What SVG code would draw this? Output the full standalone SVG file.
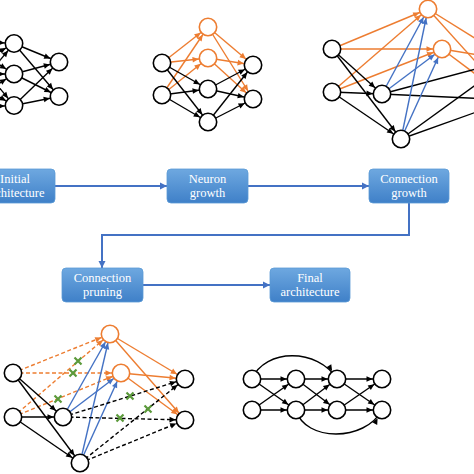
<svg xmlns="http://www.w3.org/2000/svg" width="474" height="474" viewBox="0 0 474 474">
<style>
.k{stroke:#000;stroke-width:1.4;fill:none;marker-end:url(#ak)}
.o{stroke:#ed7d31;stroke-width:1.4;fill:none;marker-end:url(#ao)}
.b{stroke:#4472c4;stroke-width:1.4;fill:none;marker-end:url(#ab)}
.d{stroke-dasharray:4 2.5}
.n{fill:#fff;stroke:#000;stroke-width:1.6}
.nr{fill:#fff;stroke:#ed7d31;stroke-width:1.6}
.f{stroke:#4472c4;stroke-width:2;fill:none;marker-end:url(#af)}
.box{fill:url(#g);stroke:#5b9bd5;stroke-width:0.8}
.t{font-family:"Liberation Serif","Times New Roman",serif;font-size:12.5px;fill:#fff;text-anchor:middle}
.x{stroke:#5b9a3b;stroke-width:2.2}
</style>
<defs>
<linearGradient id="g" x1="0" y1="0" x2="0" y2="1"><stop offset="0" stop-color="#6ea8e0"/><stop offset="1" stop-color="#3f80c8"/></linearGradient>
<marker id="ak" viewBox="-20 -5 20 10" refX="0" refY="0" markerWidth="20" markerHeight="10" markerUnits="userSpaceOnUse" orient="auto"><path d="M-15.5,-2.8 L-9.3,0 L-15.5,2.8 z" fill="#000"/></marker>
<marker id="ao" viewBox="-20 -5 20 10" refX="0" refY="0" markerWidth="20" markerHeight="10" markerUnits="userSpaceOnUse" orient="auto"><path d="M-15.5,-2.8 L-9.3,0 L-15.5,2.8 z" fill="#ed7d31"/></marker>
<marker id="ab" viewBox="-20 -5 20 10" refX="0" refY="0" markerWidth="20" markerHeight="10" markerUnits="userSpaceOnUse" orient="auto"><path d="M-15.5,-2.8 L-9.3,0 L-15.5,2.8 z" fill="#4472c4"/></marker>
<marker id="af" viewBox="0 -4 7 8" refX="7" refY="0" markerWidth="7" markerHeight="8" markerUnits="userSpaceOnUse" orient="auto"><path d="M0,-3.5 L7,0 L0,3.5 z" fill="#4472c4"/></marker>
</defs>

<g id="connectors">
<!-- Net A: initial -->
<line class="k" x1="-40" y1="40" x2="14" y2="43.5"/>
<line class="k" x1="-40" y1="74" x2="14" y2="43.5"/>
<line class="k" x1="-40" y1="108" x2="14" y2="43.5"/>
<line class="k" x1="-40" y1="40" x2="14" y2="74"/>
<line class="k" x1="-40" y1="74" x2="14" y2="74"/>
<line class="k" x1="-40" y1="108" x2="14" y2="74"/>
<line class="k" x1="-40" y1="40" x2="14" y2="105.5"/>
<line class="k" x1="-40" y1="74" x2="14" y2="105.5"/>
<line class="k" x1="-40" y1="108" x2="14" y2="105.5"/>
<line class="k" x1="14" y1="43.5" x2="59" y2="62"/>
<line class="k" x1="14" y1="43.5" x2="59" y2="96.5"/>
<line class="k" x1="14" y1="74" x2="59" y2="62"/>
<line class="k" x1="14" y1="74" x2="59" y2="96.5"/>
<line class="k" x1="14" y1="105.5" x2="59" y2="62"/>
<line class="k" x1="14" y1="105.5" x2="59" y2="96.5"/>
<!-- Net B: neuron growth -->
<line class="o" x1="162" y1="63" x2="208" y2="27"/>
<line class="o" x1="162" y1="63" x2="208" y2="58"/>
<line class="o" x1="162" y1="95" x2="208" y2="27"/>
<line class="o" x1="162" y1="95" x2="208" y2="58"/>
<line class="o" x1="208" y1="27" x2="253" y2="65"/>
<line class="o" x1="208" y1="27" x2="253" y2="99"/>
<line class="o" x1="208" y1="58" x2="253" y2="65"/>
<line class="o" x1="208" y1="58" x2="253" y2="99"/>
<line class="k" x1="162" y1="63" x2="208" y2="89"/>
<line class="k" x1="162" y1="63" x2="208" y2="122"/>
<line class="k" x1="162" y1="95" x2="208" y2="89"/>
<line class="k" x1="162" y1="95" x2="208" y2="122"/>
<line class="k" x1="208" y1="89" x2="253" y2="65"/>
<line class="k" x1="208" y1="89" x2="253" y2="99"/>
<line class="k" x1="208" y1="122" x2="253" y2="65"/>
<line class="k" x1="208" y1="122" x2="253" y2="99"/>
<!-- Net C: connection growth -->
<line class="o" x1="332" y1="49" x2="428" y2="9"/>
<line class="o" x1="332" y1="49" x2="442" y2="49"/>
<line class="o" x1="332" y1="92" x2="428" y2="9"/>
<line class="o" x1="332" y1="92" x2="442" y2="49"/>
<line class="o" x1="428" y1="9" x2="510" y2="60"/>
<line class="o" x1="428" y1="9" x2="510" y2="100"/>
<line class="o" x1="442" y1="49" x2="510" y2="60"/>
<line class="o" x1="442" y1="49" x2="510" y2="100"/>
<line class="k" x1="332" y1="49" x2="382" y2="94"/>
<line class="k" x1="332" y1="49" x2="401" y2="139"/>
<line class="k" x1="332" y1="92" x2="382" y2="94"/>
<line class="k" x1="332" y1="92" x2="401" y2="139"/>
<line class="k" x1="382" y1="94" x2="510" y2="60"/>
<line class="k" x1="382" y1="94" x2="510" y2="100"/>
<line class="k" x1="401" y1="139" x2="510" y2="60"/>
<line class="k" x1="401" y1="139" x2="510" y2="100"/>
<line class="b" x1="382" y1="94" x2="428" y2="9"/>
<line class="b" x1="382" y1="94" x2="442" y2="49"/>
<line class="b" x1="401" y1="139" x2="428" y2="9"/>
<line class="b" x1="401" y1="139" x2="442" y2="49"/>
<!-- Net D: pruning -->
<line class="o d" x1="13" y1="373" x2="110" y2="334"/>
<line class="o d" x1="13" y1="373" x2="121" y2="373"/>
<line class="o d" x1="13" y1="417" x2="110" y2="334"/>
<line class="o d" x1="13" y1="417" x2="121" y2="373"/>
<line class="o" x1="110" y1="334" x2="185" y2="379"/>
<line class="o" x1="110" y1="334" x2="185" y2="420"/>
<line class="o" x1="121" y1="373" x2="185" y2="379"/>
<line class="o" x1="121" y1="373" x2="185" y2="420"/>
<line class="k" x1="13" y1="373" x2="63" y2="417"/>
<line class="k" x1="13" y1="373" x2="80" y2="463"/>
<line class="k" x1="13" y1="417" x2="63" y2="417"/>
<line class="k" x1="13" y1="417" x2="80" y2="463"/>
<line class="b" x1="63" y1="417" x2="110" y2="334"/>
<line class="b" x1="63" y1="417" x2="121" y2="373"/>
<line class="b" x1="80" y1="463" x2="110" y2="334"/>
<line class="b" x1="80" y1="463" x2="121" y2="373"/>
<line class="k d" x1="63" y1="417" x2="185" y2="379"/>
<line class="k d" x1="63" y1="417" x2="185" y2="420"/>
<line class="k d" x1="80" y1="463" x2="185" y2="379"/>
<line class="k d" x1="80" y1="463" x2="185" y2="420"/>
<!-- Net E: final -->
<line class="k" x1="252" y1="379" x2="296" y2="379"/>
<line class="k" x1="252" y1="379" x2="296" y2="410"/>
<line class="k" x1="252" y1="410" x2="296" y2="379"/>
<line class="k" x1="252" y1="410" x2="296" y2="410"/>
<line class="k" x1="296" y1="379" x2="337" y2="379"/>
<line class="k" x1="296" y1="379" x2="337" y2="410"/>
<line class="k" x1="296" y1="410" x2="337" y2="379"/>
<line class="k" x1="296" y1="410" x2="337" y2="410"/>
<line class="k" x1="337" y1="379" x2="382" y2="379"/>
<line class="k" x1="337" y1="379" x2="382" y2="410"/>
<line class="k" x1="337" y1="410" x2="382" y2="379"/>
<line class="k" x1="337" y1="410" x2="382" y2="410"/>
<path class="k" d="M252,379 C265,348 318,348 337,379"/>
<path class="k" d="M296,410 C305,442 365,442 382,410"/>
<!-- flow arrows -->
<line class="f" x1="55" y1="186" x2="167" y2="186"/>
<line class="f" x1="248" y1="186" x2="369" y2="186"/>
<polyline class="f" points="409,203 409,235 102,235 102,268"/>
<line class="f" x1="143" y1="285" x2="270" y2="285"/>
</g>

<g id="prune-marks">
<path class="x" d="M69.5,369.5 L76.5,376.5 M69.5,376.5 L76.5,369.5"/>
<path class="x" d="M74.5,357.5 L81.5,364.5 M74.5,364.5 L81.5,357.5"/>
<path class="x" d="M54.5,395.5 L61.5,402.5 M54.5,402.5 L61.5,395.5"/>
<path class="x" d="M126.5,392.5 L133.5,399.5 M126.5,399.5 L133.5,392.5"/>
<path class="x" d="M116.5,414.5 L123.5,421.5 M116.5,421.5 L123.5,414.5"/>
<path class="x" d="M144.5,405.5 L151.5,412.5 M144.5,412.5 L151.5,405.5"/>
</g>

<g id="net-initial">
<circle class="n" cx="14" cy="43.5" r="8.7"/><circle class="n" cx="14" cy="74" r="8.7"/><circle class="n" cx="14" cy="105.5" r="8.7"/>
<circle class="n" cx="59" cy="62" r="8.7"/><circle class="n" cx="59" cy="96.5" r="8.7"/>
</g>
<g id="net-neuron-growth">
<circle class="n" cx="162" cy="63" r="8.7"/><circle class="n" cx="162" cy="95" r="8.7"/>
<circle class="nr" cx="208" cy="27" r="8.7"/><circle class="nr" cx="208" cy="58" r="8.7"/>
<circle class="n" cx="208" cy="89" r="8.7"/><circle class="n" cx="208" cy="122" r="8.7"/>
<circle class="n" cx="253" cy="65" r="8.7"/><circle class="n" cx="253" cy="99" r="8.7"/>
</g>
<g id="net-connection-growth">
<circle class="n" cx="332" cy="49" r="8.7"/><circle class="n" cx="332" cy="92" r="8.7"/>
<circle class="nr" cx="428" cy="9" r="8.7"/><circle class="nr" cx="442" cy="49" r="8.7"/>
<circle class="n" cx="382" cy="94" r="8.7"/><circle class="n" cx="401" cy="139" r="8.7"/>
</g>
<g id="net-pruning">
<circle class="n" cx="13" cy="373" r="8.7"/><circle class="n" cx="13" cy="417" r="8.7"/>
<circle class="nr" cx="110" cy="334" r="8.7"/><circle class="nr" cx="121" cy="373" r="8.7"/>
<circle class="n" cx="63" cy="417" r="8.7"/><circle class="n" cx="80" cy="463" r="8.7"/>
<circle class="n" cx="185" cy="379" r="8.7"/><circle class="n" cx="185" cy="420" r="8.7"/>
</g>
<g id="net-final">
<circle class="n" cx="252" cy="379" r="8.7"/><circle class="n" cx="252" cy="410" r="8.7"/>
<circle class="n" cx="296" cy="379" r="8.7"/><circle class="n" cx="296" cy="410" r="8.7"/>
<circle class="n" cx="337" cy="379" r="8.7"/><circle class="n" cx="337" cy="410" r="8.7"/>
<circle class="n" cx="382" cy="379" r="8.7"/><circle class="n" cx="382" cy="410" r="8.7"/>
</g>

<g id="box-initial"><rect class="box" x="-25" y="169" width="80" height="34" rx="4"/><text class="t" x="15" y="183">Initial</text><text class="t" x="15" y="197">architecture</text></g>
<g id="box-neuron"><rect class="box" x="167" y="169" width="81" height="34" rx="4"/><text class="t" x="207.5" y="183">Neuron</text><text class="t" x="207.5" y="197">growth</text></g>
<g id="box-conn-growth"><rect class="box" x="369" y="169" width="80" height="34" rx="4"/><text class="t" x="409" y="183">Connection</text><text class="t" x="409" y="197">growth</text></g>
<g id="box-pruning"><rect class="box" x="62" y="268" width="81" height="34" rx="4"/><text class="t" x="102.5" y="282">Connection</text><text class="t" x="102.5" y="296">pruning</text></g>
<g id="box-final"><rect class="box" x="270" y="268" width="80" height="34" rx="4"/><text class="t" x="310" y="282">Final</text><text class="t" x="310" y="296">architecture</text></g>
</svg>
